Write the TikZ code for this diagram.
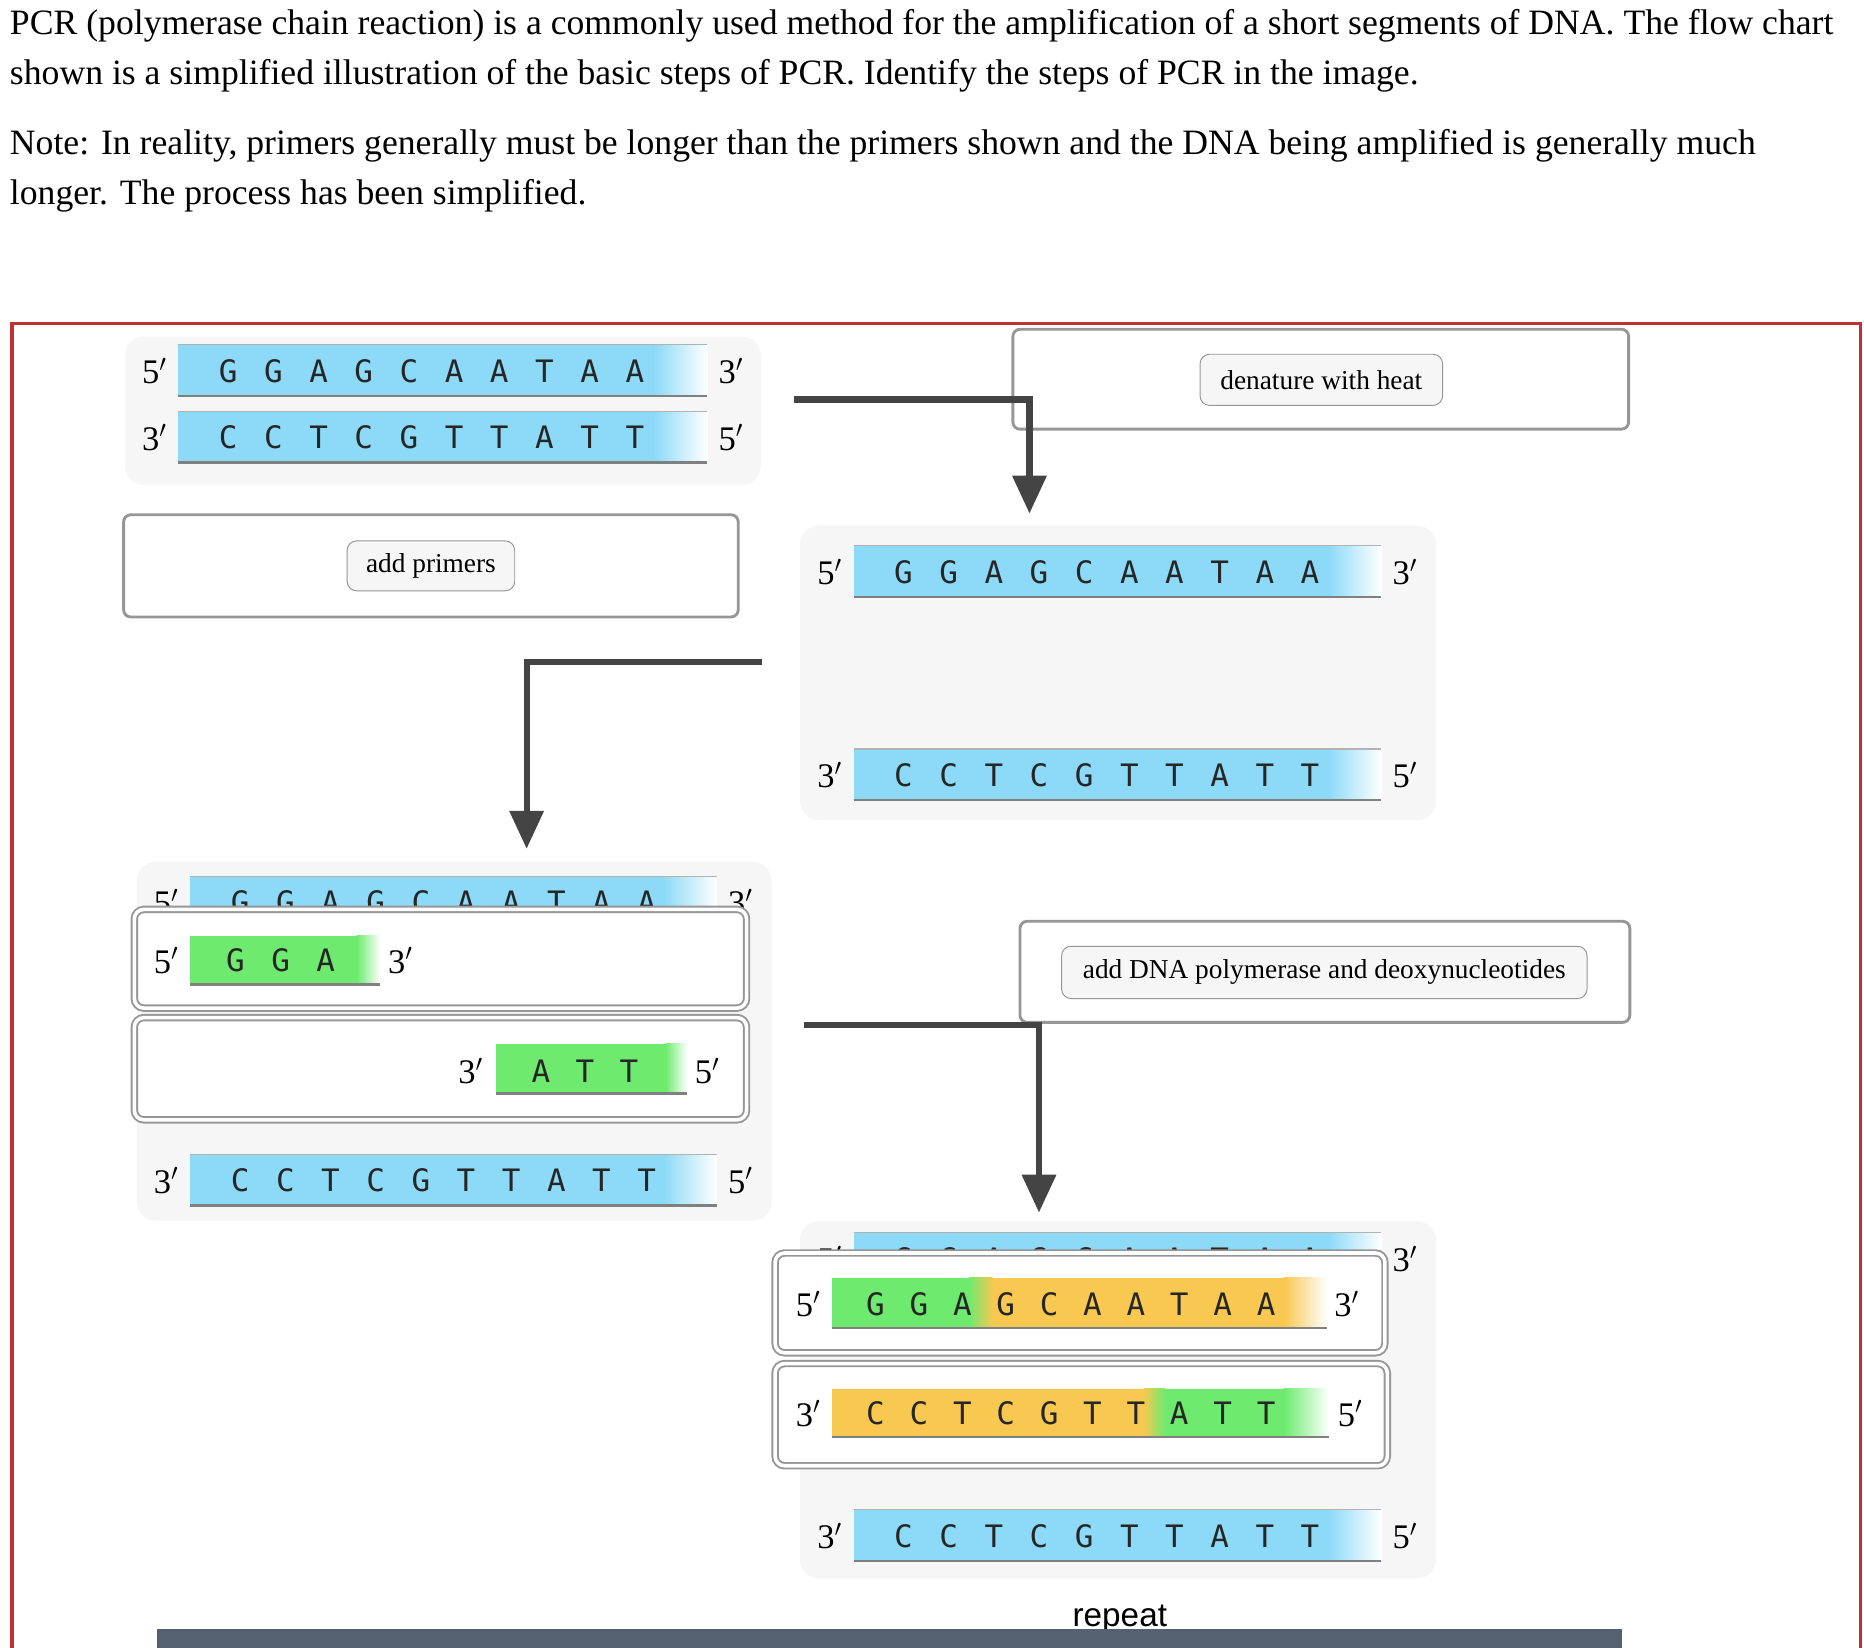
\documentclass[tikz,border=0pt]{standalone}
\usepackage{fontspec}
\setmainfont{Liberation Serif}
\setsansfont{Liberation Sans}
\newfontfamily\basefont{DejaVu Sans Mono}
\usetikzlibrary{arrows.meta}
\definecolor{bluebase}{RGB}{140,218,248}
\definecolor{greenbase}{RGB}{110,235,110}
\definecolor{yellowbase}{RGB}{248,200,80}
\definecolor{panelgray}{RGB}{246,246,246}
\definecolor{boxgray}{RGB}{150,150,150}
\definecolor{arrowgray}{RGB}{68,68,68}
\definecolor{framered}{RGB}{190,50,50}
\definecolor{barslate}{RGB}{85,96,112}
\tikzset{
  base/.style={font=\basefont\fontsize{13}{13}\selectfont, text=black!85, inner sep=0pt},
  endlab/.style={font=\fontsize{14.5}{14}\selectfont, inner sep=0pt},
  strandline/.style={draw=gray, line width=1pt},
  panel/.style={fill=panelgray, rounded corners=8pt},
  stepbox/.style={draw=boxgray, line width=1.2pt, fill=white, rounded corners=3pt},
  button/.style={draw=boxgray, fill=panelgray, rounded corners=4pt, font=\fontsize{11.5}{12}\selectfont, inner sep=0pt},
  primerbox/.style={draw=boxgray, double=white, double distance=1.5pt, line width=0.8pt, fill=white, rounded corners=4pt},
  flow/.style={draw=arrowgray, line width=2.6pt, -{Triangle[length=16pt,width=14pt]}},
  bodytext/.style={anchor=west, font=\fontsize{15}{15}\selectfont, inner sep=0pt}
}
% strand: x, y top, letters, left label, right label, width
\newcommand\dnastrand[6]{%
  \fill[bluebase] (#1,#2) rectangle ++(#6-45,43);
  \shade[left color=bluebase, right color=white] (#1+#6-45,#2) rectangle ++(45,43);
  \draw[strandline] (#1,#2+43) -- ++(#6,0);
  \draw[gray!60, line width=0.5pt] (#1,#2) -- ++(#6,0);
  \foreach \b [count=\i] in {#3} \node[base] at (#1+42+\i*38-38,#2+22) {\b};
  \node[endlab] at (#1-20,#2+22) {#4};
  \node[endlab] at (#1+#6+20,#2+22) {#5};
}
\begin{document}
\begin{tikzpicture}[x=0.5pt,y=-0.5pt]
\useasboundingbox (0,0) rectangle (1568,1386);

% question text
\node[bodytext] (q1) at (8,22) {PCR (polymerase chain reaction) is a commonly used method for the amplification of a short segments of DNA. The flow chart};
\node[bodytext] (q2) at (8,64) {shown is a simplified illustration of the basic steps of PCR. Identify the steps of PCR in the image.};
\node[bodytext] (q3) at (8,123) {Note: In reality, primers generally must be longer than the primers shown and the DNA being amplified is generally much};
\node[bodytext] (q4) at (8,165) {longer. The process has been simplified.};

% frame
\draw[framered, line width=1.5pt] (10,1400) -- (10,272) -- (1565,272) -- (1565,1400);

% panel A: double strand
\fill[panel] (105,283) rectangle (640,408);
\dnastrand{150}{290}{G,G,A,G,C,A,A,T,A,A}{5$'$}{3$'$}{445}
\dnastrand{150}{346}{C,C,T,C,G,T,T,A,T,T}{3$'$}{5$'$}{445}

% step: denature
\draw[stepbox] (852,277) rectangle (1370,361);
\node[button, minimum width=102pt, minimum height=21.5pt] (denat) at (1111.5,319.5) {denature with heat};

% panel B: separated strands
\fill[panel] (673,442) rectangle (1208,690);
\dnastrand{718}{459}{G,G,A,G,C,A,A,T,A,A}{5$'$}{3$'$}{444}
\dnastrand{718}{630}{C,C,T,C,G,T,T,A,T,T}{3$'$}{5$'$}{444}

% step: primers
\draw[stepbox] (104,433) rectangle (621,519);
\node[button, minimum width=70.5pt, minimum height=21pt] (prim) at (362.5,476) {add primers};

% panel C: primers bound
\fill[panel] (115,725) rectangle (649,1027);
\dnastrand{160}{737}{G,G,A,G,C,A,A,T,A,A}{5$'$}{3$'$}{443}
\draw[primerbox] (113,765) rectangle (628,848);
\fill[greenbase] (160,787) rectangle (300,828);
\shade[left color=greenbase, right color=white] (300,787) rectangle (320,828);
\draw[strandline] (160,828) -- (320,828);
\foreach \b [count=\i] in {G,G,A} \node[base] at (160+38*\i,808) {\b};
\node[endlab] at (140,808) {5$'$};
\node[endlab] at (337,808) {3$'$};
\draw[primerbox] (113,856) rectangle (628,942);
\fill[greenbase] (417,878) rectangle (560,920);
\shade[left color=greenbase, right color=white] (560,878) rectangle (578,920);
\draw[strandline] (417,920) -- (578,920);
\foreach \b [count=\i] in {A,T,T} \node[base] at (418+37*\i,901) {\b};
\node[endlab] at (396,901) {3$'$};
\node[endlab] at (595,901) {5$'$};
\dnastrand{160}{971}{C,C,T,C,G,T,T,A,T,T}{3$'$}{5$'$}{443}

% step: polymerase
\draw[stepbox] (858,775) rectangle (1371,860);
\node[button, minimum width=221pt, minimum height=22pt] (poly) at (1114,818) {add DNA polymerase and deoxynucleotides};

% panel D: extended strands
\fill[panel] (673,1027) rectangle (1208,1328);
\dnastrand{718}{1037}{G,G,A,G,C,A,A,T,A,A}{5$'$}{3$'$}{444}
\draw[primerbox] (652,1054) rectangle (1165,1138);
\fill[greenbase] (700,1075) rectangle (815,1117);
\shade[left color=greenbase, right color=yellowbase] (815,1075) rectangle (835,1117);
\fill[yellowbase] (835,1075) rectangle (1080,1117);
\shade[left color=yellowbase, right color=white] (1080,1075) rectangle (1116,1117);
\draw[strandline] (700,1117) -- (1116,1117);
\foreach \b [count=\i] in {G,G,A,G,C,A,A,T,A,A} \node[base] at (700+36.5*\i,1097) {\b};
\node[endlab] at (680,1097) {5$'$};
\node[endlab] at (1133,1097) {3$'$};
\draw[primerbox] (652,1147) rectangle (1167,1233);
\fill[yellowbase] (700,1168) rectangle (962,1209);
\shade[left color=yellowbase, right color=greenbase] (962,1168) rectangle (980,1209);
\fill[greenbase] (980,1168) rectangle (1080,1209);
\shade[left color=greenbase, right color=white] (1080,1168) rectangle (1118,1209);
\draw[strandline] (700,1209) -- (1118,1209);
\foreach \b [count=\i] in {C,C,T,C,G,T,T,A,T,T} \node[base] at (700+36.5*\i,1189) {\b};
\node[endlab] at (680,1189) {3$'$};
\node[endlab] at (1136,1189) {5$'$};
\dnastrand{718}{1270}{C,C,T,C,G,T,T,A,T,T}{3$'$}{5$'$}{444}

% flow arrows
\coordinate (a1s) at (668,336); \coordinate (a1k) at (866,336); \coordinate (a1e) at (866,432);
\draw[flow] (a1s) -- (a1k) -- (a1e);
\coordinate (a2s) at (641,557); \coordinate (a2k) at (443,557); \coordinate (a2e) at (443,714);
\draw[flow] (a2s) -- (a2k) -- (a2e);
\coordinate (a3s) at (676,862); \coordinate (a3k) at (874,862); \coordinate (a3e) at (874,1020);
\draw[flow] (a3s) -- (a3k) -- (a3e);

% repeat bar
\node[font=\sffamily\fontsize{14}{14}\selectfont, inner sep=0pt] (rep) at (942,1362) {repeat};
\fill[barslate] (132,1370) rectangle (1364,1390);
\end{tikzpicture}
\end{document}
